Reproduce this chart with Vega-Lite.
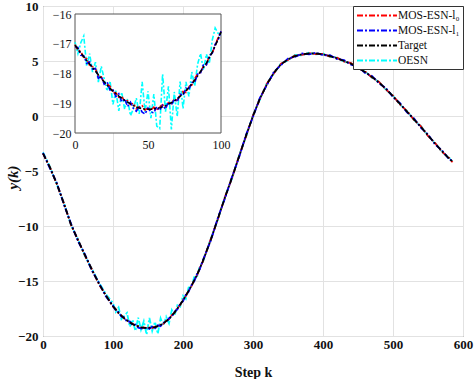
{
  "$schema": "https://vega.github.io/schema/vega-lite/v6.json",
  "width": 420,
  "height": 330,
  "autosize": {"type": "none"},
  "padding": {"left": 43, "top": 6, "right": 11, "bottom": 43},
  "background": "white",
  "config": {
    "font": "Liberation Serif",
    "axis": {"labelFont": "Liberation Serif", "titleFont": "Liberation Serif"},
    "legend": {"labelFont": "Liberation Serif", "titleFont": "Liberation Serif"},
    "view": {"stroke": "#555555", "strokeWidth": 1}
  },
  "datasets": {
    "main": [
      {"k":0,"Target":-3.4,"l0":-3.42,"l1":-3.35,"OESN":-3.3},
      {"k":10,"Target":-4.7,"l0":-4.66,"l1":-4.78,"OESN":-4.6},
      {"k":20,"Target":-6.2,"l0":-6.24,"l1":-6.12,"OESN":-6.3},
      {"k":30,"Target":-8.0,"l0":-7.95,"l1":-8.08,"OESN":-7.9},
      {"k":40,"Target":-9.85,"l0":-9.9,"l1":-9.78,"OESN":-9.95},
      {"k":50,"Target":-11.3,"l0":-11.25,"l1":-11.38,"OESN":-11.2},
      {"k":60,"Target":-12.65,"l0":-12.7,"l1":-12.58,"OESN":-12.75},
      {"k":70,"Target":-14.0,"l0":-13.95,"l1":-14.08,"OESN":-13.9},
      {"k":80,"Target":-15.25,"l0":-15.3,"l1":-15.18,"OESN":-15.15},
      {"k":90,"Target":-16.35,"l0":-16.3,"l1":-16.42,"OESN":-16.2},
      {"k":100,"Target":-17.3,"l0":-17.33,"l1":-17.25,"OESN":-17.0},
      {"k":104,"Target":-17.6,"l0":-17.56,"l1":-17.68,"OESN":-17.8},
      {"k":108,"Target":-17.9,"l0":-17.94,"l1":-17.84,"OESN":-17.4},
      {"k":112,"Target":-18.16,"l0":-18.12,"l1":-18.24,"OESN":-18.46},
      {"k":116,"Target":-18.38,"l0":-18.42,"l1":-18.3,"OESN":-18.18},
      {"k":120,"Target":-18.6,"l0":-18.56,"l1":-18.7,"OESN":-17.9},
      {"k":124,"Target":-18.76,"l0":-18.8,"l1":-18.68,"OESN":-19.16},
      {"k":128,"Target":-18.92,"l0":-18.88,"l1":-19.02,"OESN":-18.52},
      {"k":132,"Target":-19.04,"l0":-19.08,"l1":-18.96,"OESN":-19.54},
      {"k":136,"Target":-19.13,"l0":-19.09,"l1":-19.24,"OESN":-18.33},
      {"k":140,"Target":-19.22,"l0":-19.26,"l1":-19.3,"OESN":-19.42},
      {"k":144,"Target":-19.25,"l0":-19.21,"l1":-19.35,"OESN":-18.65},
      {"k":148,"Target":-19.27,"l0":-19.31,"l1":-19.2,"OESN":-19.87},
      {"k":152,"Target":-19.26,"l0":-19.22,"l1":-19.36,"OESN":-18.36},
      {"k":156,"Target":-19.23,"l0":-19.27,"l1":-19.15,"OESN":-19.53},
      {"k":160,"Target":-19.2,"l0":-19.16,"l1":-19.3,"OESN":-18.7},
      {"k":164,"Target":-19.1,"l0":-19.14,"l1":-19.02,"OESN":-19.8},
      {"k":168,"Target":-19.0,"l0":-18.96,"l1":-19.1,"OESN":-18.4},
      {"k":172,"Target":-18.85,"l0":-18.89,"l1":-18.78,"OESN":-19.05},
      {"k":176,"Target":-18.65,"l0":-18.61,"l1":-18.74,"OESN":-18.25},
      {"k":180,"Target":-18.45,"l0":-18.49,"l1":-18.38,"OESN":-18.85},
      {"k":184,"Target":-18.15,"l0":-18.11,"l1":-18.24,"OESN":-17.65},
      {"k":188,"Target":-17.85,"l0":-17.89,"l1":-17.78,"OESN":-18.15},
      {"k":192,"Target":-17.5,"l0":-17.46,"l1":-17.58,"OESN":-17.2},
      {"k":196,"Target":-17.13,"l0":-17.17,"l1":-17.06,"OESN":-17.33},
      {"k":200,"Target":-16.75,"l0":-16.71,"l1":-16.84,"OESN":-16.35},
      {"k":204,"Target":-16.33,"l0":-16.37,"l1":-16.26,"OESN":-16.63},
      {"k":208,"Target":-15.9,"l0":-15.86,"l1":-15.98,"OESN":-15.6},
      {"k":212,"Target":-15.45,"l0":-15.49,"l1":-15.38,"OESN":-15.55},
      {"k":216,"Target":-14.95,"l0":-14.91,"l1":-15.03,"OESN":-14.65},
      {"k":220,"Target":-14.45,"l0":-14.49,"l1":-14.38,"OESN":-14.65},
      {"k":224,"Target":-13.85,"l0":-13.81,"l1":-13.93,"OESN":-13.65},
      {"k":228,"Target":-13.25,"l0":-13.29,"l1":-13.18,"OESN":-13.35},
      {"k":240,"Target":-11.2,"l0":-11.15,"l1":-11.28,"OESN":-11.1},
      {"k":250,"Target":-9.3,"l0":-9.35,"l1":-9.22,"OESN":-9.4},
      {"k":260,"Target":-7.4,"l0":-7.35,"l1":-7.48,"OESN":-7.3},
      {"k":270,"Target":-5.6,"l0":-5.65,"l1":-5.52,"OESN":-5.7},
      {"k":280,"Target":-3.7,"l0":-3.65,"l1":-3.78,"OESN":-3.6},
      {"k":290,"Target":-1.8,"l0":-1.85,"l1":-1.72,"OESN":-1.9},
      {"k":300,"Target":0.0,"l0":0.05,"l1":-0.08,"OESN":0.1},
      {"k":310,"Target":1.6,"l0":1.55,"l1":1.68,"OESN":1.5},
      {"k":320,"Target":2.9,"l0":2.95,"l1":2.82,"OESN":3.0},
      {"k":330,"Target":3.95,"l0":3.9,"l1":4.03,"OESN":3.85},
      {"k":340,"Target":4.7,"l0":4.75,"l1":4.62,"OESN":4.8},
      {"k":350,"Target":5.15,"l0":5.1,"l1":5.23,"OESN":5.05},
      {"k":360,"Target":5.45,"l0":5.5,"l1":5.38,"OESN":5.55},
      {"k":370,"Target":5.6,"l0":5.55,"l1":5.68,"OESN":5.5},
      {"k":380,"Target":5.68,"l0":5.72,"l1":5.6,"OESN":5.75},
      {"k":390,"Target":5.68,"l0":5.63,"l1":5.75,"OESN":5.6},
      {"k":400,"Target":5.6,"l0":5.65,"l1":5.52,"OESN":5.68},
      {"k":410,"Target":5.45,"l0":5.4,"l1":5.53,"OESN":5.38},
      {"k":420,"Target":5.25,"l0":5.3,"l1":5.18,"OESN":5.32},
      {"k":430,"Target":5.0,"l0":4.95,"l1":5.08,"OESN":4.92},
      {"k":440,"Target":4.75,"l0":4.8,"l1":4.67,"OESN":4.82},
      {"k":450,"Target":4.4,"l0":4.35,"l1":4.48,"OESN":4.33},
      {"k":460,"Target":4.0,"l0":4.05,"l1":3.92,"OESN":4.08},
      {"k":470,"Target":3.55,"l0":3.5,"l1":3.63,"OESN":3.48},
      {"k":480,"Target":3.05,"l0":3.1,"l1":2.97,"OESN":3.12},
      {"k":490,"Target":2.45,"l0":2.4,"l1":2.53,"OESN":2.38},
      {"k":500,"Target":1.8,"l0":1.85,"l1":1.72,"OESN":1.87},
      {"k":510,"Target":1.1,"l0":1.05,"l1":1.18,"OESN":1.03},
      {"k":520,"Target":0.4,"l0":0.45,"l1":0.32,"OESN":0.47},
      {"k":530,"Target":-0.3,"l0":-0.35,"l1":-0.22,"OESN":-0.37},
      {"k":540,"Target":-1.0,"l0":-0.95,"l1":-1.08,"OESN":-0.93},
      {"k":550,"Target":-1.75,"l0":-1.8,"l1":-1.67,"OESN":-1.82},
      {"k":560,"Target":-2.5,"l0":-2.45,"l1":-2.58,"OESN":-2.43},
      {"k":570,"Target":-3.2,"l0":-3.25,"l1":-3.12,"OESN":-3.27},
      {"k":580,"Target":-3.85,"l0":-3.8,"l1":-3.93,"OESN":-3.78},
      {"k":585,"Target":-4.15,"l0":-4.2,"l1":-4.08,"OESN":-4.1}
    ],
    "inset": [
      {"k":0,"Target":-17.05,"l0":-17.03,"l1":-17.10,"OESN":-16.95},
      {"k":2,"Target":-17.18,"l0":-17.22,"l1":-17.12,"OESN":-17.33},
      {"k":4,"Target":-17.31,"l0":-17.26,"l1":-17.39,"OESN":-16.96},
      {"k":6,"Target":-17.44,"l0":-17.47,"l1":-17.40,"OESN":-16.74},
      {"k":8,"Target":-17.56,"l0":-17.50,"l1":-17.66,"OESN":-17.76},
      {"k":10,"Target":-17.68,"l0":-17.73,"l1":-17.61,"OESN":-17.33},
      {"k":12,"Target":-17.80,"l0":-17.77,"l1":-17.85,"OESN":-17.95},
      {"k":14,"Target":-17.92,"l0":-17.84,"l1":-17.83,"OESN":-17.62},
      {"k":16,"Target":-18.04,"l0":-18.08,"l1":-18.16,"OESN":-18.29},
      {"k":18,"Target":-18.16,"l0":-18.11,"l1":-18.11,"OESN":-17.76},
      {"k":20,"Target":-18.28,"l0":-18.34,"l1":-18.36,"OESN":-18.18},
      {"k":22,"Target":-18.39,"l0":-18.35,"l1":-18.29,"OESN":-18.59},
      {"k":24,"Target":-18.50,"l0":-18.43,"l1":-18.56,"OESN":-18.25},
      {"k":26,"Target":-18.59,"l0":-18.64,"l1":-18.55,"OESN":-19.04},
      {"k":28,"Target":-18.68,"l0":-18.65,"l1":-18.78,"OESN":-18.58},
      {"k":30,"Target":-18.76,"l0":-18.80,"l1":-18.68,"OESN":-19.26},
      {"k":32,"Target":-18.83,"l0":-18.77,"l1":-18.95,"OESN":-18.63},
      {"k":34,"Target":-18.90,"l0":-18.93,"l1":-18.85,"OESN":-19.20},
      {"k":36,"Target":-18.96,"l0":-18.91,"l1":-19.11,"OESN":-18.86},
      {"k":38,"Target":-19.02,"l0":-19.04,"l1":-18.96,"OESN":-19.42},
      {"k":40,"Target":-19.08,"l0":-19.00,"l1":-19.18,"OESN":-19.18},
      {"k":42,"Target":-19.13,"l0":-19.19,"l1":-19.27,"OESN":-18.83},
      {"k":44,"Target":-19.16,"l0":-19.12,"l1":-19.11,"OESN":-19.36},
      {"k":46,"Target":-19.18,"l0":-19.08,"l1":-19.30,"OESN":-18.28},
      {"k":48,"Target":-19.20,"l0":-19.23,"l1":-19.36,"OESN":-19.30},
      {"k":50,"Target":-19.20,"l0":-19.15,"l1":-19.16,"OESN":-18.60},
      {"k":52,"Target":-19.20,"l0":-19.24,"l1":-19.30,"OESN":-19.50},
      {"k":54,"Target":-19.19,"l0":-19.13,"l1":-19.32,"OESN":-18.69},
      {"k":56,"Target":-19.17,"l0":-19.22,"l1":-19.11,"OESN":-19.77},
      {"k":58,"Target":-19.15,"l0":-19.12,"l1":-19.24,"OESN":-19.85},
      {"k":60,"Target":-19.12,"l0":-19.05,"l1":-19.07,"OESN":-18.02},
      {"k":62,"Target":-19.08,"l0":-19.12,"l1":-19.19,"OESN":-19.28},
      {"k":64,"Target":-19.03,"l0":-18.98,"l1":-18.96,"OESN":-18.43},
      {"k":66,"Target":-18.98,"l0":-19.01,"l1":-19.06,"OESN":-19.88},
      {"k":68,"Target":-18.92,"l0":-18.86,"l1":-18.86,"OESN":-18.62},
      {"k":70,"Target":-18.85,"l0":-18.90,"l1":-18.95,"OESN":-19.45},
      {"k":72,"Target":-18.77,"l0":-18.73,"l1":-18.69,"OESN":-18.27},
      {"k":74,"Target":-18.68,"l0":-18.60,"l1":-18.74,"OESN":-19.18},
      {"k":76,"Target":-18.58,"l0":-18.64,"l1":-18.49,"OESN":-18.28},
      {"k":78,"Target":-18.47,"l0":-18.44,"l1":-18.54,"OESN":-18.77},
      {"k":80,"Target":-18.35,"l0":-18.39,"l1":-18.30,"OESN":-17.95},
      {"k":82,"Target":-18.22,"l0":-18.17,"l1":-18.30,"OESN":-18.42},
      {"k":84,"Target":-18.08,"l0":-18.01,"l1":-18.02,"OESN":-17.68},
      {"k":86,"Target":-17.93,"l0":-17.96,"l1":-17.98,"OESN":-17.33},
      {"k":88,"Target":-17.79,"l0":-17.75,"l1":-17.71,"OESN":-17.89},
      {"k":90,"Target":-17.65,"l0":-17.70,"l1":-17.71,"OESN":-17.35},
      {"k":92,"Target":-17.47,"l0":-17.41,"l1":-17.40,"OESN":-17.67},
      {"k":94,"Target":-17.28,"l0":-17.32,"l1":-17.32,"OESN":-16.88},
      {"k":96,"Target":-17.07,"l0":-17.04,"l1":-17.02,"OESN":-16.47},
      {"k":98,"Target":-16.85,"l0":-16.80,"l1":-16.88,"OESN":-16.65},
      {"k":100,"Target":-16.60,"l0":-16.58,"l1":-16.58,"OESN":-16.70}
    ]
  },
  "layer": [
    {
      "data": {"name": "main"},
      "transform": [{"fold": ["OESN", "l0", "l1", "Target"], "as": ["s", "y"]}],
      "mark": {"type": "line", "strokeWidth": 1.8, "strokeDash": [6, 2, 2, 2]},
      "encoding": {
        "x": {
          "field": "k", "type": "quantitative",
          "scale": {"domain": [0, 600], "nice": false, "zero": false},
          "axis": {
            "values": [0, 100, 200, 300, 400, 500, 600], "format": "d",
            "grid": true, "gridColor": "#e2e2e2", "domain": false, "ticks": false,
            "labelFlush": false, "labelFont": "Liberation Serif", "labelFontWeight": "bold", "labelFontSize": 13, "labelColor": "#111111",
            "labelPadding": 2,
            "title": "Step k", "titleFont": "Liberation Serif", "titleFontSize": 14, "titleFontWeight": "bold", "titleColor": "#111111", "titlePadding": 14
          }
        },
        "y": {
          "field": "y", "type": "quantitative",
          "scale": {"domain": [-20, 10], "nice": false, "zero": false},
          "axis": {
            "values": [-20, -15, -10, -5, 0, 5, 10], "format": "d",
            "grid": true, "gridColor": "#e2e2e2", "domain": false, "ticks": false,
            "labelFont": "Liberation Serif", "labelFontWeight": "bold", "labelFontSize": 13, "labelColor": "#111111", "labelPadding": 5,
            "title": "y(k)", "titleFont": "Liberation Serif", "titleFontSize": 15, "titleFontWeight": "bold", "titleFontStyle": "italic", "titleColor": "#111111",
            "titleX": -23, "titleY": 171, "titleAngle": 270, "titleAlign": "center", "titleBaseline": "bottom"
          }
        },
        "color": {
          "field": "s", "type": "nominal",
          "scale": {"domain": ["l0", "l1", "Target", "OESN"], "range": ["#ff0000", "#0000ff", "#000000", "#00ffff"]},
          "legend": {
            "orient": "top-right", "offset": 0, "title": null,
            "fillColor": "white", "strokeColor": "#333333", "padding": 3,
            "symbolType": "M-1,0H6.27", "symbolSize": 121, "symbolStrokeWidth": 2, "symbolDash": [6, 2, 2, 2],
            "labelFont": "Liberation Serif", "labelFontSize": 11.5, "labelColor": "#111111", "labelOffset": 29, "rowPadding": 3,
            "labelExpr": "datum.label == 'l0' ? 'MOS-ESN-l₀' : datum.label == 'l1' ? 'MOS-ESN-l₁' : datum.label"
          }
        }
      }
    },
    {
      "layer": [
        {
          "data": {"values": [{}]},
          "mark": {"type": "rect", "fill": "white", "stroke": "#555555", "strokeWidth": 1},
          "encoding": {
            "x": {"datum": 0, "type": "quantitative"},
            "x2": {"datum": 100},
            "y": {"datum": -20, "type": "quantitative"},
            "y2": {"datum": -16}
          }
        },
        {
          "data": {"name": "inset"},
          "transform": [{"fold": ["OESN", "l0", "l1", "Target"], "as": ["s", "y"]}],
          "mark": {"type": "line", "strokeWidth": 1.6, "strokeDash": [5, 2, 2, 2]},
          "encoding": {
            "x": {
              "field": "k", "type": "quantitative",
              "scale": {"domain": [0, 100], "range": [32, 178], "nice": false, "zero": false},
              "axis": {
                "orient": "bottom", "offset": -202, "values": [0, 50, 100], "format": "d",
                "grid": false, "domain": false, "ticks": false, "labelFlush": false,
                "labelFont": "Liberation Serif", "labelFontSize": 12, "labelColor": "#111111", "labelPadding": 5, "title": null
              }
            },
            "y": {
              "field": "y", "type": "quantitative",
              "scale": {"domain": [-20, -16], "range": [127, 8], "nice": false, "zero": false},
              "axis": {
                "orient": "left", "offset": -32, "values": [-20, -19, -18, -17, -16], "format": "d",
                "grid": false, "domain": false, "ticks": false,
                "labelFont": "Liberation Serif", "labelFontSize": 12, "labelColor": "#111111", "labelPadding": 4, "title": null
              }
            },
            "color": {"field": "s", "type": "nominal"}
          }
        }
      ]
    }
  ],
  "resolve": {
    "scale": {"x": "independent", "y": "independent"},
    "axis": {"x": "independent", "y": "independent"}
  }
}
